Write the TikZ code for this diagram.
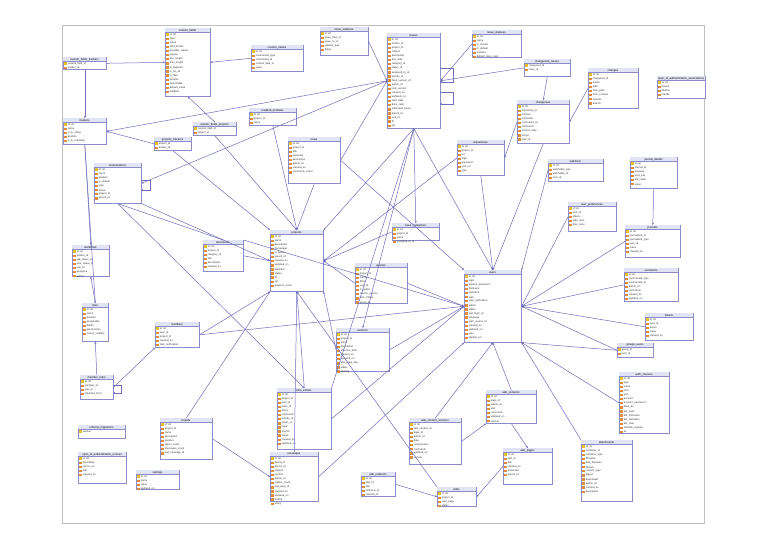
\documentclass[tikz,border=0pt]{standalone}
\usepackage{fontspec}
\setmainfont{Liberation Sans}
\usetikzlibrary{arrows.meta}
\definecolor{ln}{RGB}{110,110,190}
\definecolor{bx}{RGB}{140,140,200}
\definecolor{tb}{RGB}{225,228,245}
\definecolor{ic}{RGB}{220,140,60}
\definecolor{ky}{RGB}{230,190,40}
\tikzset{
 tbl/.style={draw=bx,fill=white,line width=0.6pt,inner sep=0pt},
 fld/.style={font=\fontsize{2.6}{3}\selectfont,anchor=west,inner sep=0pt,text=black!80},
 ttl/.style={font=\fontsize{2.8}{3}\selectfont,inner sep=0pt},
 rel/.style={draw=ln,line width=0.5pt,-{Stealth[length=2.2pt,width=2pt]}}
}
\newcommand{\tbl}[7]{%
 \node[tbl,anchor=north west,minimum width={(#4-#2)*1pt},minimum height={(#5-#3)*1pt}] (#1) at (#2,#3) {};
 \fill[tb] (#2+0.3,#3+0.3) rectangle (#4-0.3,#3+4.5);
 \draw[bx,line width=0.4pt] (#2,#3+4.5) -- (#4,#3+4.5);
 \node[ttl] at ({(#2+#4)/2},#3+2.3) {#6};
 \foreach \f [count=\i] in {#7}{
   \pgfmathsetmacro\yy{#3+4.5+\i*4.1-2}
   \ifnum\i=1 \fill[ky] (#2+1.2,\yy-1.2) rectangle (#2+3.6,\yy+1.2);\else\fill[ic] (#2+1.2,\yy-1.2) rectangle (#2+3.6,\yy+1.2);\fi
   \node[fld] at (#2+4.6,\yy) {\f};
 }}
\begin{document}
\begin{tikzpicture}[x=1pt,y=-1pt]
\useasboundingbox (0,0) rectangle (768,542);
\fill[white] (0,0) rectangle (768,542);
\draw[black!25,line width=1pt] (62,25) rectangle (704,523);
% tables
\tbl{cf}{165}{28}{210}{96}{custom\_fields}{id\ \ int,type,name,field\_format,possible\_values,regexp,min\_length,max\_length,is\_required,is\_for\_all,is\_filter,position,searchable,default\_value,editable}
\tbl{cv}{251}{45}{303}{71}{custom\_values}{id\ \ int,customized\_type,customized\_id,custom\_field\_id,value}
\tbl{cft}{63}{57}{106}{69}{custom\_fields\_trackers}{custom\_field\_id,tracker\_id}
\tbl{irl}{320}{27}{368}{55}{issue\_relations}{id\ \ int,issue\_from\_id,issue\_to\_id,relation\_type,delay}
\tbl{trk}{63}{118}{106}{144}{trackers}{id\ \ int,name,is\_in\_chlog,position,is\_in\_roadmap}
\tbl{cfp}{193}{122}{236}{135}{custom\_fields\_projects}{custom\_field\_id,project\_id}
\tbl{ptr}{154}{137}{191}{150}{projects\_trackers}{project\_id,tracker\_id}
\tbl{em}{249}{108}{296}{125}{enabled\_modules}{id\ \ int,project\_id,name}
\tbl{nws}{288}{137}{340}{183}{news}{id\ \ int,project\_id,title,summary,description,author\_id,created\_on,comments\_count}
\tbl{enu}{94}{163}{141}{203}{enumerations}{id\ \ int,name,position,is\_default,type,active,project\_id,parent\_id}
\tbl{iss}{387}{33}{440}{128}{issues}{id\ \ int,tracker\_id,project\_id,subject,description,due\_date,category\_id,status\_id,assigned\_to\_id,priority\_id,fixed\_version\_id,author\_id,lock\_version,created\_on,updated\_on,start\_date,done\_ratio,estimated\_hours,parent\_id,root\_id,lft,rgt}
\tbl{ist}{472}{30}{521}{57}{issue\_statuses}{id\ \ int,name,is\_closed,is\_default,position,default\_done\_ratio}
\tbl{chi}{524}{59}{570}{76}{changesets\_issues}{changeset\_id,issue\_id}
\tbl{chs}{517}{100}{569}{143}{changesets}{id\ \ int,repository\_id,revision,committer,committed\_on,comments,commit\_date,scmid,user\_id}
\tbl{chg}{588}{68}{638}{108}{changes}{id\ \ int,changeset\_id,action,path,from\_path,from\_revision,revision,branch}
\tbl{rep}{457}{140}{504}{175}{repositories}{id\ \ int,project\_id,url,login,password,root\_url,type}
\tbl{oia}{657}{76}{705}{98}{open\_id\_authentication\_associations}{id\ \ int,issued,lifetime,handle}
\tbl{wat}{548}{159}{603}{181}{watchers}{id\ \ int,watchable\_type,watchable\_id,user\_id}
\tbl{upr}{568}{202}{616}{231}{user\_preferences}{id\ \ int,user\_id,others,hide\_mail,time\_zone}
\tbl{jd}{630}{157}{677}{188}{journal\_details}{id\ \ int,journal\_id,property,prop\_key,old\_value,value}
\tbl{jrn}{625}{225}{680}{257}{journals}{id\ \ int,journalized\_id,journalized\_type,user\_id,notes,created\_on}
\tbl{com}{624}{268}{678}{301}{comments}{id\ \ int,commented\_type,commented\_id,author\_id,comments,created\_on,updated\_on}
\tbl{tok}{645}{313}{693}{340}{tokens}{id\ \ int,user\_id,action,value,created\_on}
\tbl{gu}{617}{343}{653}{357}{groups\_users}{group\_id,user\_id}
\tbl{aus}{619}{372}{669}{433}{auth\_sources}{id\ \ int,type,name,host,port,account,account\_password,base\_dn,attr\_login,attr\_firstname,attr\_lastname,attr\_mail,onthefly\_register,tls}
\tbl{usr}{464}{270}{521}{342}{users}{id\ \ int,login,hashed\_password,firstname,lastname,mail,mail\_notification,admin,status,last\_login\_on,language,auth\_source\_id,created\_on,updated\_on,type,identity\_url}
\tbl{wcn}{486}{390}{536}{423}{wiki\_contents}{id\ \ int,page\_id,author\_id,text,comments,updated\_on,version}
\tbl{wcv}{409}{418}{461}{464}{wiki\_content\_versions}{id\ \ int,wiki\_content\_id,page\_id,author\_id,data,compression,comments,updated\_on,version}
\tbl{wpg}{503}{448}{552}{484}{wiki\_pages}{id\ \ int,wiki\_id,title,created\_on,protected,parent\_id}
\tbl{wik}{437}{487}{476}{506}{wikis}{id\ \ int,project\_id,start\_page,status}
\tbl{att}{581}{440}{632}{501}{attachments}{id\ \ int,container\_id,container\_type,filename,disk\_filename,filesize,content\_type,digest,downloads,author\_id,created\_on,description}
\tbl{msg}{270}{452}{318}{501}{messages}{id\ \ int,board\_id,parent\_id,subject,content,author\_id,replies\_count,last\_reply\_id,created\_on,updated\_on,locked,sticky}
\tbl{tme}{277}{388}{331}{449}{time\_entries}{id\ \ int,project\_id,user\_id,issue\_id,hours,comments,activity\_id,spent\_on,tyear,tmonth,tweek,created\_on,updated\_on}
\tbl{wrd}{361}{472}{395}{496}{wiki\_redirects}{id\ \ int,wiki\_id,title,redirects\_to,created\_on}
\tbl{ver}{336}{328}{389}{371}{versions}{id\ \ int,project\_id,name,description,effective\_date,created\_on,updated\_on,wiki\_page\_title,status,sharing}
\tbl{qry}{355}{263}{407}{303}{queries}{id\ \ int,project\_id,name,filters,user\_id,is\_public,column\_names,sort\_criteria,group\_by}
\tbl{ica}{392}{223}{439}{240}{issue\_categories}{id\ \ int,project\_id,name,assigned\_to\_id}
\tbl{prj}{270}{230}{323}{291}{projects}{id\ \ int,name,description,homepage,is\_public,parent\_id,created\_on,updated\_on,identifier,status,lft,rgt,projects\_count}
\tbl{doc}{203}{240}{243}{271}{documents}{id\ \ int,project\_id,category\_id,title,description,created\_on}
\tbl{wfl}{72}{245}{109}{276}{workflows}{id\ \ int,tracker\_id,old\_status\_id,new\_status\_id,role\_id,assignee,author}
\tbl{rol}{82}{303}{108}{341}{roles}{id\ \ int,name,position,assignable,builtin,permissions,issues\_visibility}
\tbl{mem}{155}{322}{199}{347}{members}{id\ \ int,user\_id,project\_id,created\_on,mail\_notification}
\tbl{mro}{80}{375}{113}{399}{member\_roles}{id\ \ int,member\_id,role\_id,inherited\_from}
\tbl{smi}{78}{425}{125}{438}{schema\_migrations}{version}
\tbl{oin}{78}{452}{126}{483}{open\_id\_authentication\_nonces}{id\ \ int,timestamp,server\_url,salt,created\_on}
\tbl{set}{136}{470}{179}{489}{settings}{id\ \ int,name,value,updated\_on}
\tbl{brd}{160}{418}{212}{459}{boards}{id\ \ int,project\_id,name,description,position,topics\_count,messages\_count,last\_message\_id}
% self references
\coordinate (i1) at (440,68); \coordinate (i2) at (440,82);
\coordinate (i3) at (440,92); \coordinate (i4) at (440,104);
\draw[rel] (i1) -- ++(13,0) |- (i2);
\draw[rel] (i3) -- ++(13,0) |- (i4);
\coordinate (e1) at (141,180); \coordinate (e2) at (141,190);
\draw[rel] (e1) -- ++(9,0) |- (e2);
\coordinate (m1) at (113,385); \coordinate (m2) at (113,393);
\draw[rel] (m1) -- ++(8,0) |- (m2);
% relations
\draw[rel] (cft.east) -- (cf.west);
\draw[rel] (cv.west) -- (cf.east);
\draw[rel] (cft.south) -- (trk.north);
\draw[rel] (cfp.north) -- (cf.south);
\draw[rel] (ptr.west) -- (trk.east);
\draw[rel] (iss.west) -- (trk.east);
\draw[rel] (iss.west) -- (enu.east);
\draw[rel] (irl.east) -- (iss.west);
\draw[rel] (ist.west) -- (iss.east);
\draw[rel] (chi.west) -- (iss.east);
\draw[rel] (chi.south) -- (chs.north);
\draw[rel] (chg.west) -- (chs.east);
\draw[rel] (chs.west) -- (rep.east);
\draw[rel] (iss.south) -- (usr.north);
\draw[rel] (iss.south) -- (ica.north);
\draw[rel] (iss.south) -- (ver.north);
\draw[rel] (iss.south) -- (prj.north east);
\draw[rel] (nws.east) -- (iss.west);
\draw[rel] (em.south) -- (prj.north);
\draw[rel] (cfp.south) -- (prj.north);
\draw[rel] (ptr.south) -- (prj.north west);
\draw[rel] (nws.south) -- (prj.north);
\draw[rel] (enu.south east) -- (prj.west);
\draw[rel] (enu.south) -- (tme.north);
\draw[rel] (enu.south) -- (doc.north);
\draw[rel] (rep.west) -- (prj.east);
\draw[rel] (ica.west) -- (prj.east);
\draw[rel] (qry.west) -- (prj.east);
\draw[rel] (ver.west) -- (prj.south east);
\draw[rel] (doc.east) -- (prj.west);
\draw[rel] (mem.east) -- (prj.south west);
\draw[rel] (mem.east) -- (usr.west);
\draw[rel] (rol.north) -- (wfl.south);
\draw[rel] (trk.south) -- (wfl.north);
\draw[rel] (trk.south) -- (rol.north);
\draw[rel] (mro.north) -- (rol.south);
\draw[rel] (mro.east) -- (mem.south west);
\draw[rel] (wat.west) -- (usr.north east);
\draw[rel] (upr.west) -- (usr.east);
\draw[rel] (jd.south) -- (jrn.north);
\draw[rel] (jrn.west) -- (usr.east);
\draw[rel] (com.west) -- (usr.east);
\draw[rel] (tok.west) -- (usr.east);
\draw[rel] (gu.west) -- (usr.east);
\draw[rel] (gu.west) -- (usr.south east);
\draw[rel] (aus.west) -- (usr.south east);
\draw[rel] (wcn.north) -- (usr.south);
\draw[rel] (wcv.north) -- (usr.south);
\draw[rel] (att.north west) -- (usr.south east);
\draw[rel] (wcv.east) -- (wcn.south west);
\draw[rel] (wcn.south) -- (wpg.north);
\draw[rel] (wpg.west) -- (wik.east);
\draw[rel] (wrd.east) -- (wik.west);
\draw[rel] (wik.north west) -- (prj.south);
\draw[rel] (msg.north) -- (prj.south);
\draw[rel] (brd.east) -- (msg.west);
\draw[rel] (brd.north) -- (prj.south west);
\draw[rel] (tme.north) -- (prj.south);
\draw[rel] (tme.east) -- (usr.west);
\draw[rel] (tme.north east) -- (iss.south);
\draw[rel] (msg.east) -- (usr.south west);
\draw[rel] (ver.east) -- (usr.west);
\draw[rel] (qry.east) -- (usr.west);
\draw[rel] (nws.east) -- (usr.north west);
\draw[rel] (doc.north east) -- (usr.west);
\draw[rel] (rep.south) -- (usr.north);
\draw[rel] (chs.south) -- (usr.north);
\end{tikzpicture}
\end{document}
